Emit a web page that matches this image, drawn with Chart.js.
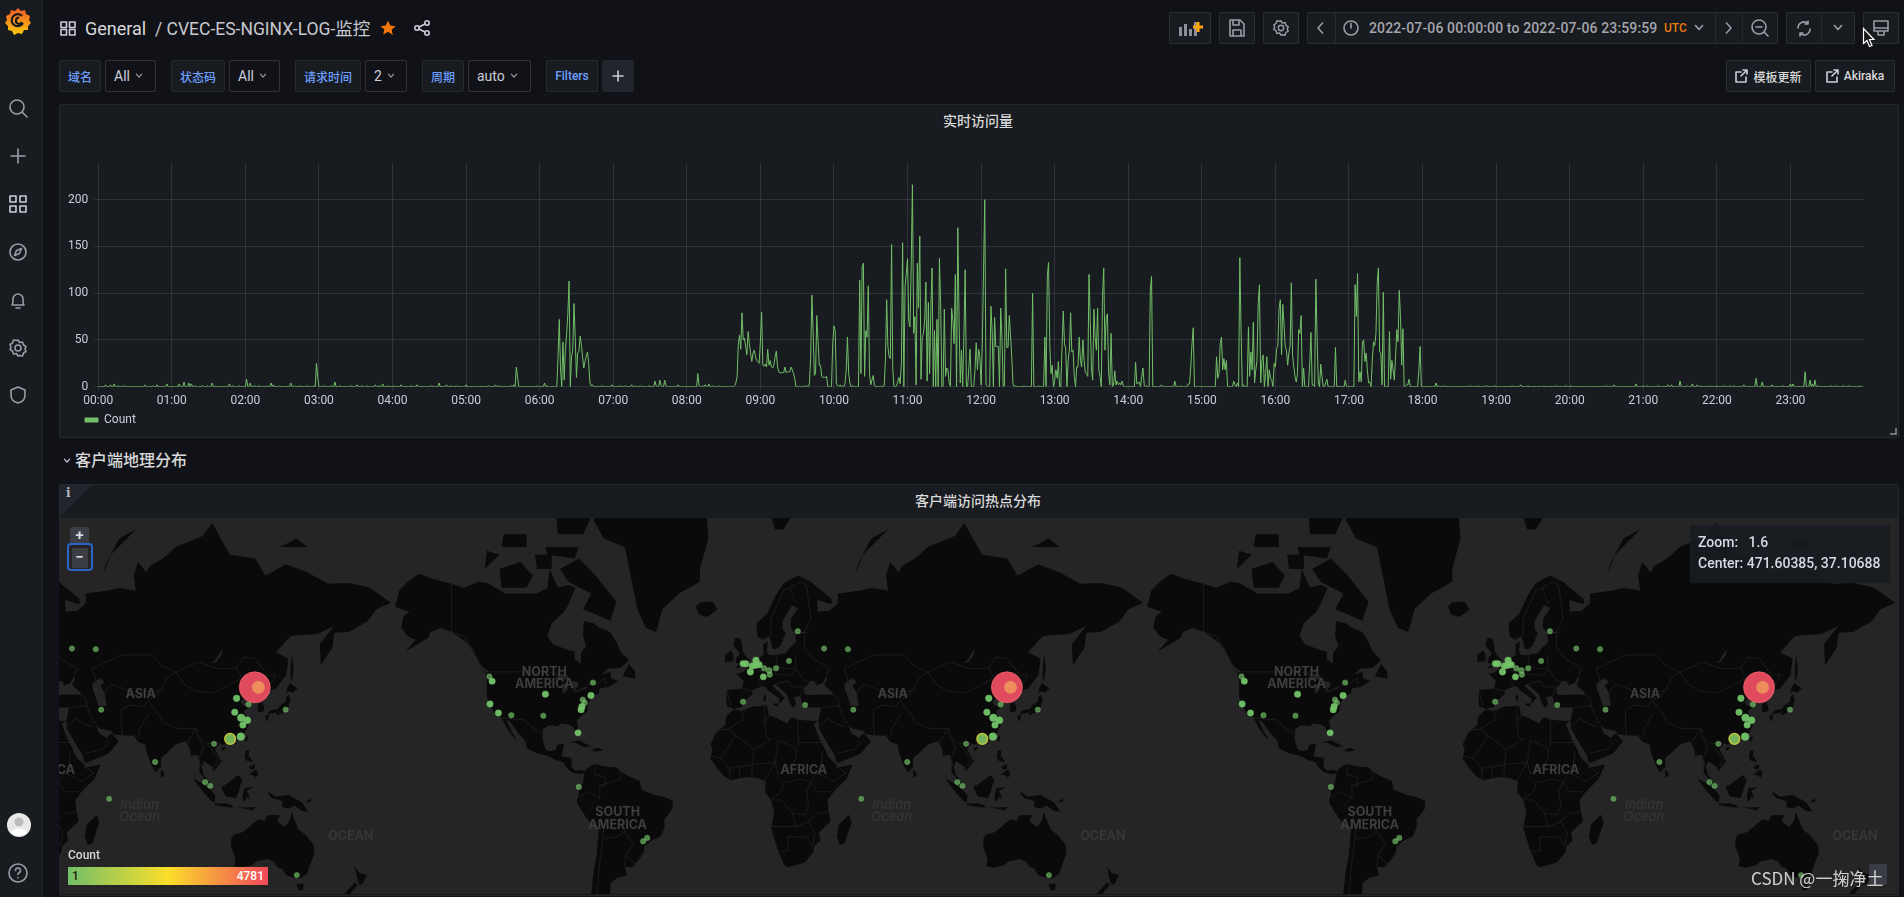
<!DOCTYPE html>
<html lang="zh"><head><meta charset="utf-8"><title>CVEC-ES-NGINX-LOG-监控</title>
<script src="https://cdn.jsdelivr.net/npm/chart.js@4/dist/chart.umd.min.js"></script>
<style>
html,body{margin:0;padding:0;width:1904px;height:897px;overflow:hidden;background:#111217;font-family:Roboto,"Noto Sans CJK SC",sans-serif;color:#ccccdc}
.a{position:absolute;box-sizing:border-box;white-space:pre}
.side{left:0;top:0;width:43px;height:897px;background:#181b1f;border-right:1px solid #22252b}
.ic{position:absolute;fill:none;stroke:#9b9da6;stroke-width:1.6;stroke-linecap:round;stroke-linejoin:round}
.btn{background:#181b1f;border:1px solid rgba(204,204,220,.1);border-radius:2px;display:flex;align-items:center;justify-content:center}
.lab{background:#181b1f;border:1px solid rgba(204,204,220,.08);border-radius:2px;color:#6e9fff;font-size:12px;font-weight:500;display:flex;align-items:center;justify-content:center;top:60px;height:32px}
.sel{background:#111217;border:1px solid rgba(204,204,220,.18);border-radius:2px;font-size:14px;display:flex;align-items:center;top:60px;height:32px;padding-left:8px}
.sel svg{margin-left:5px}
.panel{background:#181b1f;border:1px solid rgba(204,204,220,.07);border-radius:2px}
.ttl{font-size:14px;font-weight:500;color:#d8d9da;transform:translateX(-50%)}
canvas{position:absolute;display:block}
</style></head><body>
<div class="a side"></div>
<svg class="a" style="left:5px;top:6px" width="27" height="30" viewBox="0 0 27 30"><defs><linearGradient id="g" x1="0" y1="1" x2="0" y2="0"><stop offset="0" stop-color="#fbca0a"/><stop offset="1" stop-color="#f05a28"/></linearGradient></defs><path fill="url(#g)" d="M13 2l3 3 4-1 1 4 4 2-1 4 2 3-3 3 0 4-4 0-2 4-4-1-4 2-2-4-4-1 0-4-3-3 2-3-1-4 4-2 1-4 4 1z"/><path d="M18 17a6 6 0 1 1-1-7M17 16a3.2 3.2 0 1 1-2.8-4.5" fill="none" stroke="#181b1f" stroke-width="2.2"/></svg>
<svg class="ic" style="left:8px;top:98px" width="20" height="20" viewBox="0 0 20 20"><circle cx="9" cy="9" r="7"/><path d="M14 14l5 5"/></svg>
<svg class="ic" style="left:8px;top:146px" width="20" height="20" viewBox="0 0 20 20"><path d="M10 3v14M3 10h14"/></svg>
<svg class="ic" style="left:8px;top:194px;stroke:#ccccdc" width="20" height="20" viewBox="0 0 20 20"><path d="M2 2h6v6H2zM12 2h6v6h-6zM2 12h6v6H2zM12 12h6v6h-6z"/></svg>
<svg class="ic" style="left:8px;top:242px" width="20" height="20" viewBox="0 0 20 20"><circle cx="10" cy="10" r="8"/><path d="M13.5 6.5l-2 5-5 2 2-5z"/></svg>
<svg class="ic" style="left:8px;top:290px" width="20" height="20" viewBox="0 0 20 20"><path d="M4 15c1-1 1-2 1-6a5 5 0 0 1 10 0c0 4 0 5 1 6zM8 18h4"/></svg>
<svg class="ic" style="left:8px;top:338px" width="20" height="20" viewBox="0 0 20 20"><circle cx="10" cy="10" r="3"/><path d="M10 2l1.500 2.500 3-.5 1 3 2.500 1.500-1 2.500 1 2.500-2.500 1.500-1 3-3-.5L10 18l-1.500-2.500-3 .5-1-3L2 11.500l1-2.500-1-2.500L4.500 5l1-3 3 .5z"/></svg>
<svg class="ic" style="left:8px;top:385px" width="20" height="20" viewBox="0 0 20 20"><path d="M10 2l7 3v5c0 4-3 7-7 8-4-1-7-4-7-8V5z"/></svg>
<svg class="a" style="left:7px;top:813px" width="24" height="24" viewBox="0 0 24 24"><circle cx="12" cy="12" r="12" fill="#e8e8e8"/><circle cx="12" cy="9" r="4.500" fill="#bbb"/><path d="M4 20c2-6 14-6 16 0a12 12 0 0 1-16 0" fill="#fff"/></svg>
<svg class="ic" style="left:8px;top:863px" width="20" height="20" viewBox="0 0 20 20"><circle cx="10" cy="10" r="9"/><path d="M7.500 7.500a2.500 2.500 0 1 1 3.500 2.300c-.8.4-1 .9-1 1.700M10 14.500v.2"/></svg>

<svg class="ic" style="left:60px;top:21px;stroke:#ccccdc" width="16" height="15" viewBox="0 0 16 15"><path d="M1 1h5.500v5.500H1zM9.500 1H15v5.500H9.500zM1 8.500h5.500V14H1zM9.500 8.500H15V14H9.500z"/></svg>
<div class="a" style="left:85px;top:18px;font-size:18px;line-height:22px;color:#d8d9da">General</div>
<div class="a" style="left:155px;top:18px;font-size:17.5px;line-height:22px;color:#c7c8d0">/ CVEC-ES-NGINX-LOG-监控</div>
<svg class="a" style="left:380px;top:20px" width="16" height="16" viewBox="0 0 24 24"><path fill="#f2780e" d="M12 1l3.400 7.300 8 1-5.900 5.400 1.600 7.900L12 17.700l-7.100 3.900 1.600-7.900L.6 9.300l8-1z"/></svg>
<svg class="ic" style="left:414px;top:20px;stroke:#ccccdc" width="16" height="16" viewBox="0 0 16 16"><circle cx="3" cy="8" r="2.200"/><circle cx="13" cy="3" r="2.200"/><circle cx="13" cy="13" r="2.200"/><path d="M5 7l6-3M5 9l6 3"/></svg>

<div class="a btn" style="left:1169px;top:12px;width:42px;height:32px"><svg width="26" height="18" viewBox="0 0 26 18"><path d="M2 8h3v9H2zM7 5h3v12H7zM12 10h3v7h-3zM17 3h3v14h-3z" fill="#8e8f98"/><path d="M21 3v10M16 8h10" stroke="#f5a20c" stroke-width="3.200"/></svg></div>
<div class="a btn" style="left:1219px;top:12px;width:36px;height:32px"><svg class="ic" style="position:static" width="16" height="18" viewBox="0 0 16 18"><path d="M1 1h10l4 4v12H1zM4 1v5h6V1M4 17v-6h8v6"/></svg></div>
<div class="a btn" style="left:1263px;top:12px;width:36px;height:32px"><svg class="ic" style="position:static" width="18" height="18" viewBox="0 0 20 20"><circle cx="10" cy="10" r="3"/><path d="M10 2l1.500 2.500 3-.5 1 3 2.500 1.500-1 2.500 1 2.500-2.500 1.500-1 3-3-.5L10 18l-1.500-2.500-3 .5-1-3L2 11.500l1-2.500-1-2.500L4.500 5l1-3 3 .5z"/></svg></div>
<div class="a btn" style="left:1307px;top:12px;width:471px;height:32px"></div>
<div class="a" style="left:1335px;top:13px;width:1px;height:30px;background:#25282e"></div>
<div class="a" style="left:1715px;top:13px;width:1px;height:30px;background:#25282e"></div>
<div class="a" style="left:1742px;top:13px;width:1px;height:30px;background:#25282e"></div>
<svg class="ic" style="left:1316px;top:22px" width="9" height="12" viewBox="0 0 9 12"><path d="M6.500 1L2 6l4.500 5"/></svg>
<svg class="ic" style="left:1343px;top:20px" width="16" height="16" viewBox="0 0 16 16"><circle cx="8" cy="8" r="7"/><path d="M8 3.500V8"/></svg>
<div class="a" style="left:1369px;top:19px;font-size:14px;line-height:18px;font-weight:500;color:#a4a5ae;letter-spacing:.13px">2022-07-06 00:00:00 to 2022-07-06 23:59:59</div>
<div class="a" style="left:1664px;top:20px;font-size:12px;line-height:16px;font-weight:500;color:#e87d0d">UTC</div>
<svg class="ic" style="left:1694px;top:24px" width="10" height="8" viewBox="0 0 10 8"><path d="M1.500 1.500L5 5.500l3.500-4"/></svg>
<svg class="ic" style="left:1724px;top:22px" width="9" height="12" viewBox="0 0 9 12"><path d="M2.500 1L7 6l-4.500 5"/></svg>
<svg class="ic" style="left:1751px;top:19px" width="18" height="18" viewBox="0 0 18 18"><circle cx="8" cy="8" r="7"/><path d="M5 8h6M13 13l4 4"/></svg>
<div class="a btn" style="left:1786px;top:12px;width:69px;height:32px"></div>
<div class="a" style="left:1821px;top:13px;width:1px;height:30px;background:#25282e"></div>
<svg class="ic" style="left:1796px;top:20px" width="16" height="17" viewBox="0 0 16 17"><path d="M2 8a6 6 0 0 1 10-4.500M14 9a6 6 0 0 1-10 4.500M12 1v3h-3M4 16v-3h3"/></svg>
<svg class="ic" style="left:1833px;top:24px" width="10" height="8" viewBox="0 0 10 8"><path d="M1.500 1.500L5 5.500l3.500-4"/></svg>
<div class="a btn" style="left:1863px;top:12px;width:36px;height:32px"><svg class="ic" style="position:static" width="16" height="17" viewBox="0 0 16 17"><path d="M1 1h14v10H1zM1 8h14M5 11v4h6v-4"/></svg></div>

<div class="a lab" style="left:59px;width:42px">域名</div>
<div class="a sel" style="left:105px;width:51px">All<svg class="ic" style="position:static" width="8" height="6" viewBox="0 0 10 8"><path d="M1.500 1.500L5 5.500l3.500-4"/></svg></div>
<div class="a lab" style="left:171px;width:54px">状态码</div>
<div class="a sel" style="left:229px;width:51px">All<svg class="ic" style="position:static" width="8" height="6" viewBox="0 0 10 8"><path d="M1.500 1.500L5 5.500l3.500-4"/></svg></div>
<div class="a lab" style="left:295px;width:66px">请求时间</div>
<div class="a sel" style="left:365px;width:42px">2<svg class="ic" style="position:static" width="8" height="6" viewBox="0 0 10 8"><path d="M1.500 1.500L5 5.500l3.500-4"/></svg></div>
<div class="a lab" style="left:422px;width:42px">周期</div>
<div class="a sel" style="left:468px;width:63px">auto<svg class="ic" style="position:static" width="8" height="6" viewBox="0 0 10 8"><path d="M1.500 1.500L5 5.500l3.500-4"/></svg></div>
<div class="a lab" style="left:546px;width:52px">Filters</div>
<div class="a" style="left:602px;top:60px;width:32px;height:32px;background:#22252b;border-radius:2px;display:flex;align-items:center;justify-content:center"><svg class="ic" style="position:static;stroke:#ccccdc" width="12" height="12" viewBox="0 0 12 12"><path d="M6 1v10M1 6h10"/></svg></div>
<div class="a btn" style="left:1726px;top:60px;width:85px;height:32px;font-size:12px;font-weight:500;color:#d8d9da;gap:5px"><svg class="ic" style="position:static;stroke:#ccccdc" width="13" height="14" viewBox="0 0 13 14"><path d="M11 8v5H1V3h5M8 1h4v4M12 1L6 7"/></svg>模板更新</div>
<div class="a btn" style="left:1815px;top:60px;width:80px;height:32px;font-size:12px;font-weight:500;color:#d8d9da;gap:5px"><svg class="ic" style="position:static;stroke:#ccccdc" width="13" height="14" viewBox="0 0 13 14"><path d="M11 8v5H1V3h5M8 1h4v4M12 1L6 7"/></svg>Akiraka</div>

<div class="a panel" style="left:59px;top:104px;width:1840px;height:334px"></div>
<div class="a ttl" style="left:978px;top:111px;line-height:20px">实时访问量</div>
<canvas id="rate" style="left:60px;top:150px"></canvas>
<svg class="a" style="left:1890px;top:428px" width="7" height="7" viewBox="0 0 7 7"><path d="M6 0v6H0" fill="none" stroke="#8e8f98" stroke-width="1.500"/></svg>

<svg class="ic" style="left:63px;top:458px;stroke:#ccccdc" width="8" height="6" viewBox="0 0 10 8"><path d="M1.500 1.500L5 5.500l3.500-4"/></svg>
<div class="a" style="left:75px;top:449px;font-size:16px;line-height:23px;font-weight:500;color:#d8d9da">客户端地理分布</div>

<div class="a panel" style="left:59px;top:484px;width:1840px;height:412px"></div>
<div class="a" style="left:60px;top:485px;width:0;height:0;border-top:32px solid #22252b;border-right:32px solid transparent"></div>
<div class="a" style="left:66px;top:486px;font-size:12px;line-height:15px;font-weight:700;color:#b8b9c2;font-family:'DejaVu Serif',serif">i</div>
<div class="a ttl" style="left:978px;top:491px;line-height:20px">客户端访问热点分布</div>
<canvas id="map" style="left:59px;top:517.500px"></canvas>

<div class="a" style="left:70px;top:527px;width:19px;height:16px;background:#3b3d45;border-radius:2px 2px 0 0;color:#d8d9da;font-size:15px;font-weight:700;line-height:16px;text-align:center">+</div>
<div class="a" style="left:66.500px;top:543px;width:26px;height:28px;border:2px solid #2d62c6;border-radius:4px;padding:2px 2px 2px 2px"><div style="background:#3b3d45;height:20px;margin:1px 1px;color:#d8d9da;font-size:15px;font-weight:700;line-height:19px;text-align:center">−</div></div>
<div class="a" style="left:1690px;top:525px;width:200px;height:58px;background:rgba(24,27,31,.92);border-radius:2px;padding:7px 8px;font-size:14px;line-height:21px;font-weight:500;color:#d8d9e4">Zoom:   1.6
Center: 471.60385, 37.10688</div>
<div class="a" style="left:68px;top:847px;font-size:12px;line-height:16px;font-weight:500;color:#d8d9da">Count</div>
<div class="a" style="left:68px;top:867px;width:200px;height:18px;background:linear-gradient(90deg,#73bf69 0%,#fade2a 50%,#f2495c 100%)"></div>
<div class="a" style="left:72px;top:867px;font-size:12px;line-height:18px;font-weight:500;color:#1d2410">1</div>
<div class="a" style="left:232px;top:867px;width:32px;text-align:right;font-size:12px;line-height:18px;font-weight:500;color:#fff">4781</div>
<div class="a" style="left:1869px;top:864px;width:18px;height:21px;background:#3b3d45;border-radius:2px"></div>
<div class="a" style="left:1751px;top:866px;font-size:17px;line-height:24px;color:rgba(255,255,255,.78);font-family:'Noto Sans CJK SC',sans-serif">CSDN @一掬净土</div>
<svg class="a" style="left:1862px;top:27px" width="14" height="21" viewBox="0 0 14 21"><path d="M1.500 1.500v15l3.500-3 2.500 6 2.500-1-2.500-6h4.500z" fill="#1a1a1a" stroke="#fff" stroke-width="1.200"/></svg>

<script>
// ---- time series: requests per minute ----
const hourLabels = ['00:00','01:00','02:00','03:00','04:00','05:00','06:00','07:00','08:00','09:00','10:00','11:00','12:00','13:00','14:00','15:00','16:00','17:00','18:00','19:00','20:00','21:00','22:00','23:00'];
const seriesName = 'Count';
const blipMinutes = [6,10,13,16,21,38,45,48,56,66,70,74,76,79,85,89,93,107,110,115,121,124,128,131,138,141,143,148,157,160,165,170,176,178,179,184,190,193,197,206,211,215,219,226,229,232,236,241,247,255,260,272,278,284,288,292,300,318,324,327,337,339,341,342,358,364,366,
 411,419,425,430,435,438,442,449,454,455,458,459,462,463,473,489,490,493,495,498,501,506,519,520,576,578,
 1091,1093,1097,1119,1125,1131,1133,1139,1153,1160,1166,1179,1189,1197,1201,1230,1236,1254,1260,1263,1272,1280,1283,1290,1296,1300,1304,1307,1314,1320,1326,1331,1334,1342,1352,1357,1365,1374,1380,1382,1392,1396,1398,1400,1403,1413,1417,1423,1428,1437];
const blipCounts = [2,2,3,1,1,2,1,2,3,3,5,4,3,1,1,1,4,3,1,1,8,4,1,1,1,4,2,1,4,1,1,1,1,25,10,1,1,5,1,1,2,1,1,2,1,3,1,1,2,1,2,1,4,2,1,1,2,1,2,1,1,2,21,10,1,4,1,
 1,2,1,1,2,1,1,1,6,1,7,1,7,1,2,14,1,1,2,3,1,1,1,4,1,1,
 4,1,1,1,1,1,1,1,1,2,1,1,1,1,1,1,2,3,1,1,1,2,2,6,1,3,2,1,1,1,1,1,1,2,9,5,2,1,3,3,16,7,3,7,1,1,1,1,1,1];
const start0615 = 375;
const burst0615 = [32,72,20,0,48,7,39,56,78,113,0,32,39,89,53,10,36,37,54,45,32,20,27,33,37,25,4,1,2];
const start0841 = 521;
const burst0841 = [10,45,55,40,79,50,52,43,34,59,46,36,27,36,39,32,28,27,25,48,80,23,22,24,21,40,23,28,21,20,23,32,38,21,16,15,15,15,15,21,15,16,16,16,21,18,14,9];
const start0940 = 580;
const burst0940 = [3,30,98,60,12,14,76,50,23,23,11,10,10,10,11,0,0,0,0,46];
const hour10 = [65,60,3,1,0,2,0,1,0,3,18,53,14,4,0,1,0,0,0,0,0,114,14,128,132,11,60,53,108,14,2,7,12,2,0,0,0,0,0,1,0,1,30,93,43,32,30,152,18,0,0,1,5,10,3,25,154,0,107,121];
const hour11 = [137,71,64,130,216,57,75,2,132,84,161,8,53,57,71,112,6,90,14,82,127,0,60,0,72,0,137,89,0,0,83,11,20,18,4,0,84,71,46,120,0,170,75,4,39,0,57,125,0,0,20,40,0,0,0,18,47,18,40,32];
const hour12 = [2,46,125,200,2,1,0,0,86,60,0,74,43,43,43,0,84,53,0,1,126,42,42,76,55,32,3,0,1,0,0,0,0,0,0,1,0,0,0,0,0,0,100,0,0,0,0,1,0,0,0,0,53,0,118,133,46,14,23,0];
const hour13 = [7,18,9,27,0,0,43,81,46,41,0,28,39,79,37,39,11,0,21,21,53,28,21,50,28,15,14,11,120,71,18,7,83,53,39,84,18,11,0,94,127,39,73,78,14,2,57,0,2,17,2,6,2,4,2,6,1,0,0,0];
const hour14 = [0,0,0,0,0,0,26,3,4,5,0,11,20,2,0,1,0,0,103,118,0,0,0,0,0,0,0,2,0,0,0,0,0,0,0,0,0,0,6,0,0,0,0,1,0,0,0,0,0,3,3,21,46,63,0,0,0,0,0,0];
const hour15 = [0,0,0,0,0,0,0,0,0,0,0,0,32,9,14,46,53,18,30,18,28,0,0,0,0,0,6,2,0,4,0,138,60,0,2,0,0,0,64,11,37,18,69,4,18,28,89,109,4,28,34,0,14,32,0,18,9,7,0,25];
const hour16 = [21,41,43,84,93,34,88,68,43,39,23,36,44,111,34,21,11,5,14,61,57,76,0,20,0,0,0,0,25,58,2,2,0,115,53,4,0,24,11,0,0,4,8,0,0,0,0,0,0,42,0,0,0,0,0,0,0,7,0,0];
const hour17 = [0,0,0,0,0,109,75,121,5,16,5,48,50,27,36,18,4,5,0,28,48,44,57,110,127,37,36,2,101,0,0,0,0,59,8,28,18,7,32,61,48,103,75,23,62,0,1,2,2,8,0,0,0,0,0,0,0,18,43,0];

// ---- geo map: one world copy in degrees, repeated as the map view wraps ----
const cityNames = ['Changchun','Harbin','Guangzhou','Xiamen','Nanjing','Beijing','Yantai','Tokyo','Zhengzhou','Shanghai','Hangzhou','Hanoi','Bangalore','Kuala Lumpur','Singapore','Mahe','Melbourne','Reading','London','Amsterdam','Lille','Brussels','Dusseldorf','Paris','Frankfurt','Nuremberg','Munich','Zurich','Prague','Warsaw','Helsinki','Moscow','Kazan','Alicante','Izmir','Tehran','Seattle','Portland','Omaha','Montreal','New York','Baltimore','Washington','Richmond','Raleigh','San Francisco','Los Angeles','Phoenix','Dallas','Miami','Quito','Campinas','Curitiba'];
const cityLons = [124.9,126.6,113.1,118.2,118.4,116.2,121.9,139.7,115.3,121.3,119.2,105.4,77.2,101.2,103.6,55.2,145,-1.4,-0.1,4.8,3,4.5,6.3,2.1,8.7,11.1,11.4,8.3,14.4,20.6,24.8,37.4,48.8,-1.4,28.3,51.4,-122.8,-121.5,-96,-73.2,-74.2,-78.1,-77.2,-78.5,-78.9,-122.5,-118.5,-112.3,-97,-80.4,-80,-47.3,-49.2];
const cityLats = [43.9,43.9,23.6,24.6,32.5,40,37.7,35.7,34.7,31.5,29.5,21.4,13.1,3.6,1.8,-4.4,-37.8,51.5,51.5,52.5,50.8,51,51.2,49,50.1,49.4,48.1,47.4,50.1,52.3,60.2,55.8,55.6,38.7,37.5,35.7,47.5,46,41.5,45.5,41,39.5,38.3,36.9,35.7,37.9,34.4,33.5,33.3,26.2,1.3,-22.5,-24];
const cityCounts = [4781,380,260,70,65,30,5,3,25,40,25,4,4,4,4,3,3,20,25,30,25,25,25,30,5,12,4,20,5,3,3,3,3,5,3,3,4,22,25,5,25,5,6,25,25,22,20,5,4,20,5,5,5];
const mapLabelTexts = [['ASIA'],['AFRICA'],['NORTH','AMERICA'],['SOUTH','AMERICA'],['Indian','Ocean'],['OCEAN']];
const mapLabelLons = [70.3,27.7,-96.5,-61.4,69.8,170.8];
const mapLabelLats = [41.4,9.2,47,-13.7,-10.2,-21.6];

const northAmerica = [-168,65.5,-166,68.5,-162,70,-156.5,71.3,-150,70.5,-141,69.7,-135,69,-128,70,-124,69.8,-115,68,-108,68,-100,68,-95,69,-94,72,-90,69,-85,69.5,-81.5,69,-85,66,-87,64.5,-93,62,-95,59,-92.5,57,-85,55.3,-82,55,-82,52.8,-79,51.5,-79,54.5,-76.5,56.5,-78,59,-77.5,62.5,-73,62,-70,61,-65,60,-62,57.5,-60,55,-56,52.5,-60,50.2,-66,50,-69,48,-65,49,-64.5,47,-61,46,-66,44,-70,43.5,-70.5,41.7,-74,40.6,-75.5,38,-76,35,-78,33.8,-81,31.5,-80,27,-80.5,25,-82,27,-83,29,-85,29.7,-89,30,-90,29,-94,29.5,-97,28,-97.5,24,-96,19,-94,18,-91,18.7,-90.5,21,-87,21.5,-88,17,-88.5,15.8,-83.5,15,-83.5,11,-82,9,-79.5,9.5,-77.3,8.7,-78,7.5,-80,7.5,-83,8.2,-85.5,10,-87.5,13,-92,14.5,-95,16,-100,17,-105,19.5,-105.5,22.5,-109,26,-113,31,-114.8,31.7,-112,26.5,-109.5,23,-112,25,-115,29,-117,32.5,-120.5,34.5,-122.5,37.5,-124,40.5,-124,46,-124.7,48.4,-123,49,-127,51,-130,54.5,-133,57,-137,58.7,-141,60,-146,61,-151,60,-152,58.5,-157,57,-163,55,-158,58,-162,59,-165,61,-164,63.5,-161,64.5];
const southAmerica = [-77.3,8.7,-75,11,-72,12.2,-68,11,-62,10.7,-60,8.5,-55,5.9,-51,4.2,-50,0,-44,-2.5,-39,-3.5,-35,-5.5,-35,-9,-39,-14,-39,-18,-41,-22,-45,-23.5,-48.5,-26,-49,-29,-52,-32.5,-54.5,-34.8,-58,-34.5,-57,-38,-62,-39,-65,-41,-65,-45,-67,-46,-69,-50,-68.5,-52.5,-72,-53.5,-75,-50,-74,-44,-73,-37,-71.5,-30,-70.3,-18,-76,-14,-81,-6,-80,-2,-80,1,-78,3,-77.5,7];
const africa = [-5.9,35.8,-2,35.2,3,36.8,10,37.3,11,33.5,15,32.3,19.5,30.3,22,32.8,25,31.7,32,31.2,34.2,31.3,32.5,29.8,35,24,37.3,20,39.5,15.3,43,12,44,10.5,51.2,11.9,48,5,42,-1,39,-5,39.5,-10,40.6,-15,35,-20,35.5,-24,32.7,-26,32,-29,28,-33,20,-34.8,18.3,-33.8,15,-27,12,-18,13.5,-11,12,-5,9,-1,9.5,4,5,5.8,1,6,-4,5.2,-7.5,4.5,-11,7,-14,10.5,-17,14.7,-16,19,-17,21,-14.5,26,-10,29.5,-9.5,33];
const eurasia = [-9,37,-9.5,38.8,-9,43,-2,43.5,-1,46,-4.5,48.4,-1.5,48.8,1.5,50.8,4,52,7,53.5,8.5,54,8.2,57,10.5,57.6,10,55,11,54,14,54,19,54.5,21,56,24,57.5,23.5,59.3,30,60,23,60,21.5,61,21.5,63,25,65.2,22,65.8,17.5,62.5,17.5,60.5,19,59.8,16.5,56.5,14.2,55.5,12.8,55.8,11.2,59,8,58,5.5,59,5,62,10,64,14,67.5,18,69.8,25,71,31,70,41,67,41,66,34,66.8,34.5,64.5,40,64.7,44,66.2,44,68,54,68.5,60,69,68,68.5,67,71,69,73,73,71.5,75,72.5,81,73.5,87,75,100,76.3,104.5,77.7,113,74,125,73.5,130,71,140,72.7,150,71.5,160,69.7,170,69.8,180,69,190,66.3,183,65,179,62.5,170,60,163,59.8,162,56,156.5,51,156,57,163,61.5,155,59.5,142,59,135,54.7,141,53,140,48,135,43.5,130.8,42.5,127.5,39.8,129.3,37,129.3,35.2,126.3,34.5,126.5,37.5,125,39.7,121.5,39,122,40.7,118,39,119,37.3,122.5,37,119.5,35,121.8,31.5,122,29.5,119.7,25.5,116.5,23,113.5,22.2,110,21,108,21.5,105.8,19,109,13.5,106.8,10.5,105,8.7,105,10.5,100.5,13.5,99.5,11,100.5,7,103.5,3,103.9,1.4,101.3,2.8,100.3,6,98.3,8,98.6,12,97.5,16.5,94.3,16,94,19,91.8,22.4,89,21.8,87,21,82.5,17,80,15,80,11,77.5,8.2,75.5,11.5,73,18,72.7,21,69,22.3,67,25,61.5,25.2,57,25.6,56.5,27,51,28,48.8,30,50.2,26.5,51.5,25.5,54,24,56.3,26,59.8,22.5,55,17,45,13,43.3,12.8,42.7,16,39,21.5,35,28,34.6,31,36,36.5,30.5,36.5,27,37,26.5,39.5,26,40.8,23,40.5,24,38,22.7,36.5,21,38,19.5,41.5,14,45,12.5,44.5,18.5,40.2,16,38,15.8,40,11,42.5,8.7,44.4,3.2,43,3,41.5,0,39.5,-2,36.8,-5.5,36];
const australia = [113.7,-22.5,115,-21,119,-20,122,-18,124,-16,127,-14,129.5,-15,130.8,-12.3,135,-12,136.8,-12.3,135.7,-15,139.3,-17.5,141.5,-15,142.5,-10.8,144,-14.5,146,-19,149,-21,153,-25.5,153.5,-29,150.8,-35,150,-37.5,146.5,-39,143.5,-38.8,140,-38,138,-35.3,135.7,-34.8,134,-32.5,131,-31.5,125.5,-32.5,123.5,-34,118,-35,115,-34.3,115.7,-31.5,113.5,-26];
const greenland = [-73,78,-60,82,-35,83.5,-20,81.5,-18,76,-22,72,-22,70,-32,68,-40,65,-43,60,-48,61,-52,65,-54,69,-58,75,-68,76];
const arcticIslands = [[-80,73.5,-72,71,-62,66.5,-65,62.5,-72,64,-78,65,-74,68,-85,70,-89,72],[-117,69,-105,69,-102,71,-108,73,-118,72],[-90,76.5,-78,76.5,-62,82.5,-75,83,-92,81],[-125,72,-118,74,-124,74.5],[-96,75,-80,75,-82,73.5,-95,74],[-117,75,-105,75,-105,76.5,-116,76.5],[-100,72,-93,72,-93,74,-101,74],[11,79,20,80.5,27,80,18,77,14,77],[52,71,56,74,68,77,60,76,54,73],[95,79,105,79,100,81],[137,75,150,75,145,76]];
const atlanticIslands = [[-59,47.7,-53,46.7,-53,49,-56,51.5],[-84.8,22,-80,23,-74.2,20.2,-77.5,19.9,-82,22],[-74.3,18.4,-71,19.8,-68.4,18.5,-71.5,17.8],[-24,65.5,-22,66.4,-16,66.5,-13.6,65,-18.5,63.4,-22.5,63.9],[-5.5,50,1.3,51.2,1.7,52.7,0,53.5,-1.5,55,-2,57.5,-3.5,58.6,-5.2,58.5,-6,56.5,-3,54.5,-4.5,53.3,-5,51.8,-3,51.4],[-10,52,-6,52.2,-6,54,-7,55.3,-10,54],[12.5,38,15.5,38.2,15,36.7],[8.3,41,9.7,41,9.5,39,8.5,39],[-128,50.5,-123.5,48.4,-125,48.8]];
const asiaIslands = [[130.9,34,132.5,35.5,136,36,137,37.4,139.5,38.5,140,40.5,141.3,41.4,142,39.5,141,37,140.8,35.7,139,34.9,135.8,33.5,135,34.6,132,34],[130,33.5,131.8,33.7,131,31.3,130.2,31.3],[140,41.7,140.3,43.3,141.7,45.4,145.3,43.5,143.2,42,141,42.5],[142,46,142,50,142.7,54.3,143.5,50,143,47],[120.2,23,121.5,25.2,122,25,120.9,22],[108.7,19.3,110.5,20.1,111,19.6,109.5,18.2],[120,16,120.7,18.5,122.2,18.4,122,16,124,13,120.7,13.8],[122,7,125.5,9.7,126.5,7.5,125.5,5.7,124,7],[122,11,125,12,125,10,123,9.5],[109,1.5,111,2.5,114,4.6,117,7,119,5,118,2,117.5,0,116,-4,111,-3.3,109.5,-0.3],[95.3,5.5,98,4,103.7,0,106,-3,105.8,-5.8,104.5,-5.8,100.5,-1.5,97.5,2.5],[105.3,-6.5,108.5,-6.6,111,-6.5,114.5,-7.7,114.3,-8.7,108,-7.8,106,-7.4],[119.5,-5.5,119,-3,119.8,0.5,124.5,1.2,121,-0.5,121.8,-2,122.5,-5,121,-3,120.5,-5.5],[80,9.7,81.8,7.5,81,6,80,6]];
const pacificIslands = [[131,-0.8,135,-3.3,141,-2.6,145.5,-5,147.8,-6.5,150.5,-10.5,147,-10,144,-7.7,141,-9,138,-8.3,138,-5.5,133,-4,132,-2.8],[116,-8.5,125,-8.3,124,-10,120,-9],[149,-6,152,-4.2,152,-5.5,150,-6.3],[144.7,-41,148.3,-41,148,-43,146,-43.5,145.3,-42],[172.7,-34.5,175,-37,178.5,-37.7,176.5,-41,175,-41.5,174,-39],[172.8,-40.5,174.2,-41.5,171,-44,170.8,-45.7,167.5,-46.2,168,-44.5],[49.3,-12,50.5,-15.5,47.2,-25,45,-25.5,43.5,-22,44.5,-16.5]];
const inlandWaters = [[28,41.5,28,43.5,30.5,46,33,46,33.5,44.5,36.5,45.2,38,47,39,47,37.5,44.7,41.5,42,41.5,41.2,36,41.5,31,41.2],[47,45,51,47,53,45.5,51,44.5,53,42,54,37,50,37.3,49,40,47.5,43],[-92,46.7,-88,48.5,-85,47.7,-84.7,46.5,-87,46.5],[-87.5,41.7,-88,44.5,-85,46,-85.5,43],[-84,46,-81,46,-80,44.5,-82,43,-83.5,44],[-83,41.7,-79,42.8,-79.5,43.5,-76,44,-76.5,43.3,-79,43.2],[104,51.6,106,52.5,109.5,55.7,109,54,106.5,52]];
const borderLines = [[-123,49,-95,49,-89,48,-84.5,46.5,-82.5,45,-82.5,42.5,-79,43,-75,45,-71,45,-67.5,47,-67,45],[-141,69.7,-141,60,-135,59,-130,55],[-117,32.5,-106.5,31.7,-103,29,-97.5,26],
[87,49,98,52,107,50,116,50,119.5,53.3,125,53,131,48,135,48,131,43],[87,49,91,45,96,42.7,105,42,112,44.5,119,47,116,50],[87,49,80,51,76,54,61,54,52,51.5,47,50,49,46],[53,41.5,56,45,62,43.5,68,41,73,42.5,80,42.5,83,47,87,49],[80,42.5,74,39,78,35,81,30.5,88,28,97,28,98,24,102,21.5,107,22,108,21.5],[74,34,70,28,69,24],[61.5,25.2,61,30,61,35.5,65,37.5,71,37,74,39],[92.5,21,94,24,97,28],[98,24,100.5,20,98,15,99,11],[102,21.5,105,18,107.5,14.5,106,11],[44.5,37.5,46,34,48.5,30],[35,29,39,32,46,29,48,29],[44,17,52,19,55,22],[36,36.5,42,37,44.5,37.5,44,40,41.5,41.5],[124.4,40,128,42,130.5,42.5],[126,38,128.5,38.5],
[-1.8,43.4,3.2,42.5],[2.5,51,6,49.5,8,49,7.5,47.6,6,46,7.5,44],[14.2,54,15,51,18,50,24,50,23.5,54],[28,60,28,56,32,53,40,50,38,47],[28,60,31,63,29,69.5,26,70],[12,59,12,63,18,68.5,21,69,26,70],[24,66,21,69],[24,50,28,46,30,46],[14,45,20,46,22,44,28,44,26,41],[6,49.500,14,48.5,17,48,22,48,24,50],[-9,42,-7,37.2],
[-13,27.7,-8.7,27.7,-1,32,-2,35.2],[9,30,10,24,12,23.5,4,19,-5,25,-8.7,27.7],[9,37,9,30,11,33.5],[25,31.7,25,20],[25,22,36.8,22],[15,23,24,19.5,24,15.5,22,11,15.5,7.5,14,13],[4,19,3,11.8,14,13,15.5,23],[-12,15,-5,25],[-12,15,-16.5,16],[-12,15,-8,10,-3,11,3,11.8],[-8,10,-7.5,4.5],[-3,11,-3,5.2],[3,11.8,2.8,6.3],[14,13,9,4.5],[12,-5,17,-5,22,-11,28,-12,30,-8,29,-1,31,3.5,27,5,18,3.5,17,-1,12,-5],[36.8,18,36,12,34,8,42,4,48,8,43,11],[34,-1,41,-1],[34,-1,31,3.5,34,8],[34,-11.5,40.5,-10.5],[12,-17.3,24,-17.5,22,-11],[16.5,-28.5,20,-28,20,-22,29,-22,32,-26],[30,-15,33,-20,32,-26],[24,-17.5,30,-15,34,-11.5],
[-60,5,-70,2,-70,-4,-74,-7.5,-70,-11,-65,-10,-60,-14,-58,-20,-54,-25,-57.5,-30,-53,-33.5],[-72,12,-72.5,7,-67.5,6,-67,1.5,-70,2],[-80,-3.5,-75,-1,-70,-4],[-68,-18,-70,-33,-72,-50,-68,-52.5],[-68,-23,-62,-22,-58,-20],[-70.3,-18,-69,-11],[-60,5,-60,8.5],[-57.5,-30,-58,-34.5]];

// ---- assemble the data ----
const minuteCounts = new Array(1440).fill(0);
blipMinutes.forEach((m, i) => { minuteCounts[m] = blipCounts[i]; });
[[start0615, burst0615], [start0841, burst0841], [start0940, burst0940], [600, hour10], [660, hour11], [720, hour12], [780, hour13], [840, hour14], [900, hour15], [960, hour16], [1020, hour17]]
  .forEach(([s, arr]) => arr.forEach((v, i) => { minuteCounts[s + i] = v; }));
const ratePoints = minuteCounts.map((y, x) => ({x, y}));

Chart.defaults.font.family = 'Roboto,"Noto Sans CJK SC",sans-serif';
Chart.defaults.font.size = 12;
Chart.defaults.color = '#ccccdc';
Chart.defaults.animation = false;

const shiftLegend = {id: 'shiftLegend', afterLayout(chart) { chart.legend.left += 15; }};
const gridColor = 'rgba(204,204,220,.13)';
const hourGrid = c => (c.tick && c.tick.value >= 1440) ? 'transparent' : gridColor;
const rateCanvas = document.getElementById('rate');
rateCanvas.width = 1807; rateCanvas.height = 286;
rateCanvas.style.width = '1807px'; rateCanvas.style.height = '286px';
new Chart(rateCanvas, {
  type: 'line',
  data: {datasets: [{label: seriesName, data: ratePoints, borderColor: '#73BF69', backgroundColor: '#73BF69', borderWidth: 1, pointRadius: 0, tension: 0, fill: false}]},
  options: {
    responsive: false, devicePixelRatio: 1,
    layout: {autoPadding: false, padding: {left: 0, right: 1, top: 8, bottom: 0}},
    plugins: {tooltip: {enabled: false}, legend: {position: 'bottom', align: 'start', onClick: null, labels: {boxWidth: 13, boxHeight: 4, padding: 10, color: '#ccccdc', font: {size: 12}}}},
    scales: {
      x: {type: 'linear', min: 0, max: 1440,
        afterFit: s => { s.height = 17.3; },
        border: {display: false},
        grid: {color: hourGrid, tickLength: 4, tickColor: hourGrid},
        ticks: {stepSize: 60, includeBounds: false, autoSkip: false, maxRotation: 0, padding: 3, color: '#ccccdc', callback: v => hourLabels[Math.round(v / 60)] || ''}},
      y: {type: 'linear', min: 0, max: 239,
        afterFit: s => { s.width = 38.2; },
        border: {display: false},
        grid: {color: gridColor, tickLength: 4, tickColor: gridColor},
        ticks: {stepSize: 50, includeBounds: false, padding: 6, color: '#ccccdc'}}
    }
  },
  plugins: [shiftLegend]
});

// ---- map ----
const mercator = lat => Math.asinh(Math.tan(lat * Math.PI / 180));
const worldCopies = [-1, 0, 1, 2];
const landShapes = [northAmerica, southAmerica, africa, eurasia, australia, greenland, ...arcticIslands, ...atlanticIslands, ...asiaIslands, ...pacificIslands];
const radiusOf = c => 2.3 + 13.2 * Math.sqrt(c / 4781);
const fillOf = c => c >= 2000 ? 'rgba(236,78,98,.95)' : c >= 300 ? 'rgba(238,148,92,.9)' : c >= 150 ? 'rgba(122,190,96,.95)' : c >= 15 ? 'rgba(115,196,105,.95)' : 'rgba(115,191,105,.68)';
const edgeOf = c => c >= 2000 ? 'rgba(242,100,115,.9)' : c >= 300 ? 'rgba(238,148,92,.9)' : c >= 150 ? '#c9c63a' : 'rgba(115,191,105,.5)';
const cityPoints = [];
worldCopies.forEach(k => cityNames.forEach((name, i) => {
  cityPoints.push({x: cityLons[i] + 360 * k, y: mercator(cityLats[i]), r: radiusOf(cityCounts[i]), count: cityCounts[i]});
}));
// biggest first so smaller circles stay on top
cityPoints.sort((a, b) => b.count - a.count);

const tracePath = (ctx, xs, ys, flat, k, close) => {
  ctx.beginPath();
  for (let i = 0; i < flat.length; i += 2) {
    const px = xs.getPixelForValue(flat[i] + 360 * k), py = ys.getPixelForValue(mercator(flat[i + 1]));
    i === 0 ? ctx.moveTo(px, py) : ctx.lineTo(px, py);
  }
  if (close) ctx.closePath();
};
const basemap = {
  id: 'basemap',
  beforeDatasetsDraw(chart) {
    const {ctx, chartArea: a, scales: {x, y}} = chart;
    ctx.save();
    ctx.beginPath(); ctx.rect(a.left, a.top, a.width, a.height); ctx.clip();
    ctx.fillStyle = '#252526'; ctx.fillRect(a.left, a.top, a.width, a.height);
    worldCopies.forEach(k => {
      ctx.fillStyle = '#0a0a0a';
      landShapes.forEach(s => { tracePath(ctx, x, y, s, k, true); ctx.fill(); });
      ctx.fillStyle = '#252526';
      inlandWaters.forEach(s => { tracePath(ctx, x, y, s, k, true); ctx.fill(); });
      ctx.strokeStyle = '#212122'; ctx.lineWidth = 0.8;
      borderLines.forEach(s => { tracePath(ctx, x, y, s, k, false); ctx.stroke(); });
    });
    ctx.textAlign = 'center'; ctx.textBaseline = 'middle';
    mapLabelTexts.forEach((lines, i) => {
      const italic = lines[0] === 'Indian', ocean = lines[0] === 'OCEAN';
      ctx.font = (italic ? 'italic 500 13px ' : '700 12.5px ') + 'Inter,Roboto,sans-serif';
      ctx.fillStyle = italic || ocean ? '#363637' : '#3e3e3f';
      worldCopies.forEach(k => {
        lines.forEach((t, j) => {
          const px = x.getPixelForValue(mapLabelLons[i] + 360 * k);
          const py = y.getPixelForValue(mercator(mapLabelLats[i])) + (j - (lines.length - 1) / 2) * 12.5;
          ctx.fillText(t, px, py);
        });
      });
    });
    ctx.restore();
  }
};
const mapCanvas = document.getElementById('map');
mapCanvas.width = 1839; mapCanvas.height = 376;
mapCanvas.style.width = '1839px'; mapCanvas.style.height = '376px';
new Chart(mapCanvas, {
  type: 'bubble',
  data: {datasets: [{label: seriesName, data: cityPoints,
    backgroundColor: c => fillOf(c.raw.count),
    borderColor: c => edgeOf(c.raw.count),
    borderWidth: c => c.raw.count >= 150 && c.raw.count < 300 ? 1.4 : 0.8}]},
  options: {
    responsive: false, devicePixelRatio: 1,
    layout: {autoPadding: false, padding: 0},
    plugins: {legend: {display: false}, tooltip: {enabled: false}},
    scales: {
      x: {type: 'linear', display: false, min: -328.8, max: 551.4},
      y: {type: 'linear', display: false, min: -0.872, max: 2.269}
    }
  },
  plugins: [basemap]
});
</script>
</body></html>
